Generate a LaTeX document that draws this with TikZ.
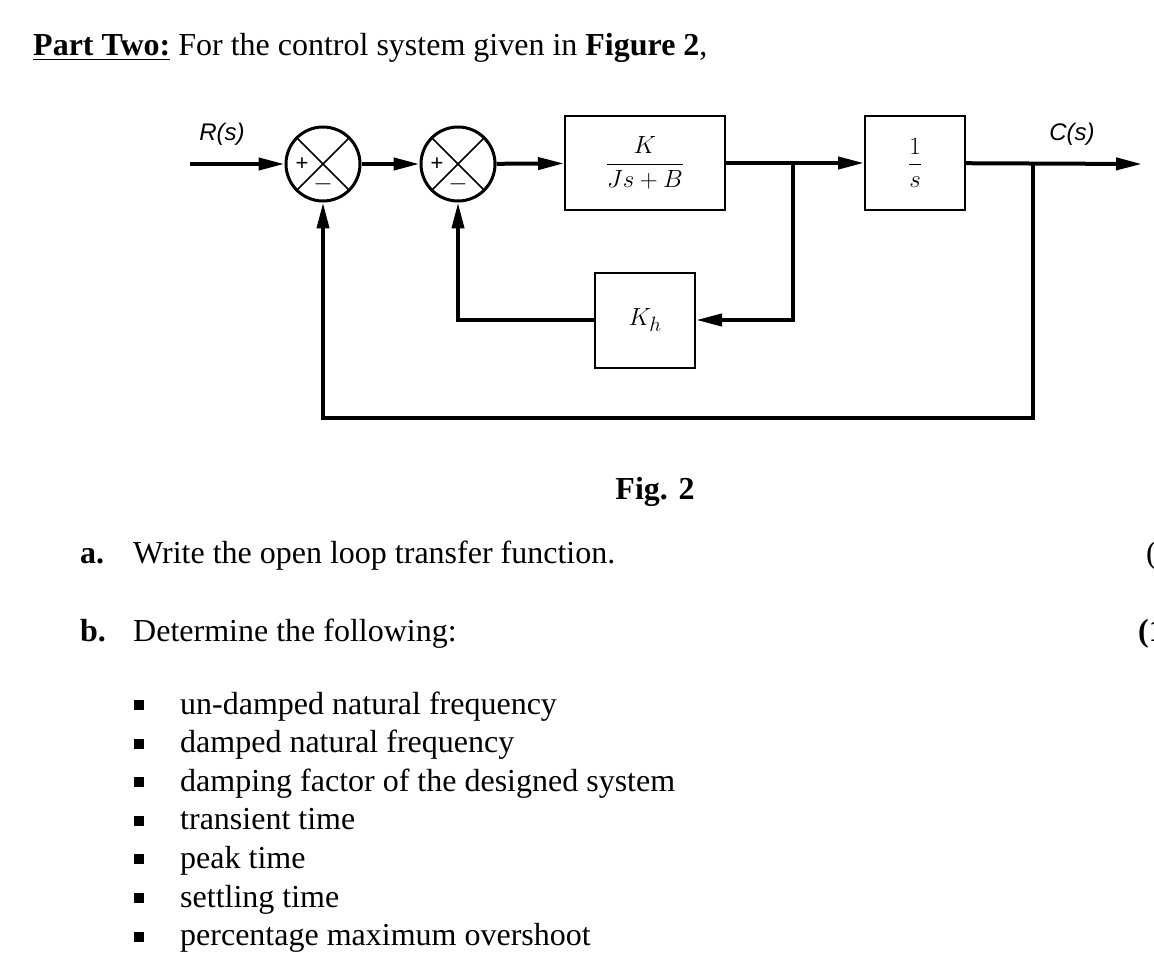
\documentclass[tikz,border=0pt]{standalone}
\usepackage{amsmath}
\usepackage{fontspec}
\setmainfont{Liberation Serif}
\newfontfamily\lsans{Liberation Sans}
\usetikzlibrary{arrows.meta}
\begin{document}
\begin{tikzpicture}[x=1pt,y=-1pt,
  sig/.style={line width=4pt,-{Triangle[length=26pt,width=12pt]}},
  blk/.style={draw,line width=2pt,minimum width=160pt,minimum height=94pt,inner sep=0},
  sm/.style={draw,circle,line width=3pt,minimum size=74pt,inner sep=0},
  mth/.style={font=\fontsize{30pt}{30pt}\selectfont},
  txt/.style={anchor=base west,font=\fontsize{32pt}{32pt}\selectfont,inner sep=0}]
\useasboundingbox (0,0) rectangle (1154,960);
\node[txt] (title) at (33,56) {\textbf{\underline{Part Two:}} For the control system given in \textbf{Figure 2},};
\node[sm] (s1) at (323,164) {};
\node[sm] (s2) at (458,164) {};
\foreach \s in {s1,s2}{
 \draw[line width=1.5pt] (\s.45)--(\s.225) (\s.135)--(\s.315);
 \node[font=\lsans\fontsize{22pt}{22pt}\selectfont] at ([xshift=-21pt]\s.center) {+};
 \node[font=\fontsize{24pt}{24pt}\selectfont] at ([yshift=-20pt]\s.center) {$-$};}
\node[blk,mth] (G) at (645,163) {$\dfrac{K}{Js+B}$};
\node[blk,minimum width=100pt,mth] (I) at (915,163) {$\dfrac{1}{s}$};
\node[blk,minimum width=100pt,minimum height=95pt,mth] (H) at (645,320) {$K_h$};
\coordinate (in) at (190,164);
\coordinate (out) at (1142,164);
\coordinate (b1) at (793,164);
\coordinate (b2) at (1033,164);
\node[font=\lsans\itshape\fontsize{24pt}{24pt}\selectfont] (R) at (222,134) {R(s)};
\node[font=\lsans\itshape\fontsize{24pt}{24pt}\selectfont] (C) at (1072,134) {C(s)};
\draw[sig] (in)--(s1);
\draw[sig] (s1)--(s2);
\draw[sig] (s2)--(G);
\draw[sig] (G)--(I);
\draw[sig] (I)--(out);
\draw[sig] (b1)--(793,320)--(H);
\draw[sig] (H)--(458,320)--(s2);
\draw[sig] (b2)--(1033,418)--(323,418)--(s1);
\node[font=\bfseries\fontsize{32pt}{32pt}\selectfont] (fig) at (655,492) {Fig. 2};
\node[txt] (a) at (80,563) {\textbf{a.}};
\node[txt] (at) at (133,563) {Write the open loop transfer function.};
\node[txt] (b) at (80,641) {\textbf{b.}};
\node[txt] (bt) at (133,641) {Determine the following:};
\node[txt] (pa) at (1146,563) {(};
\node[txt] (pb) at (1138,641) {\textbf{(1}};
\foreach \t [count=\i] in {un-damped natural frequency,damped natural frequency,damping factor of the designed system,transient time,peak time,settling time,percentage maximum overshoot}{
 \fill (134,{700+38.6*(\i-1)}) rectangle +(10,10);
 \node[txt] at (180,{714+38.6*(\i-1)}) {\t};}
\end{tikzpicture}
\end{document}
